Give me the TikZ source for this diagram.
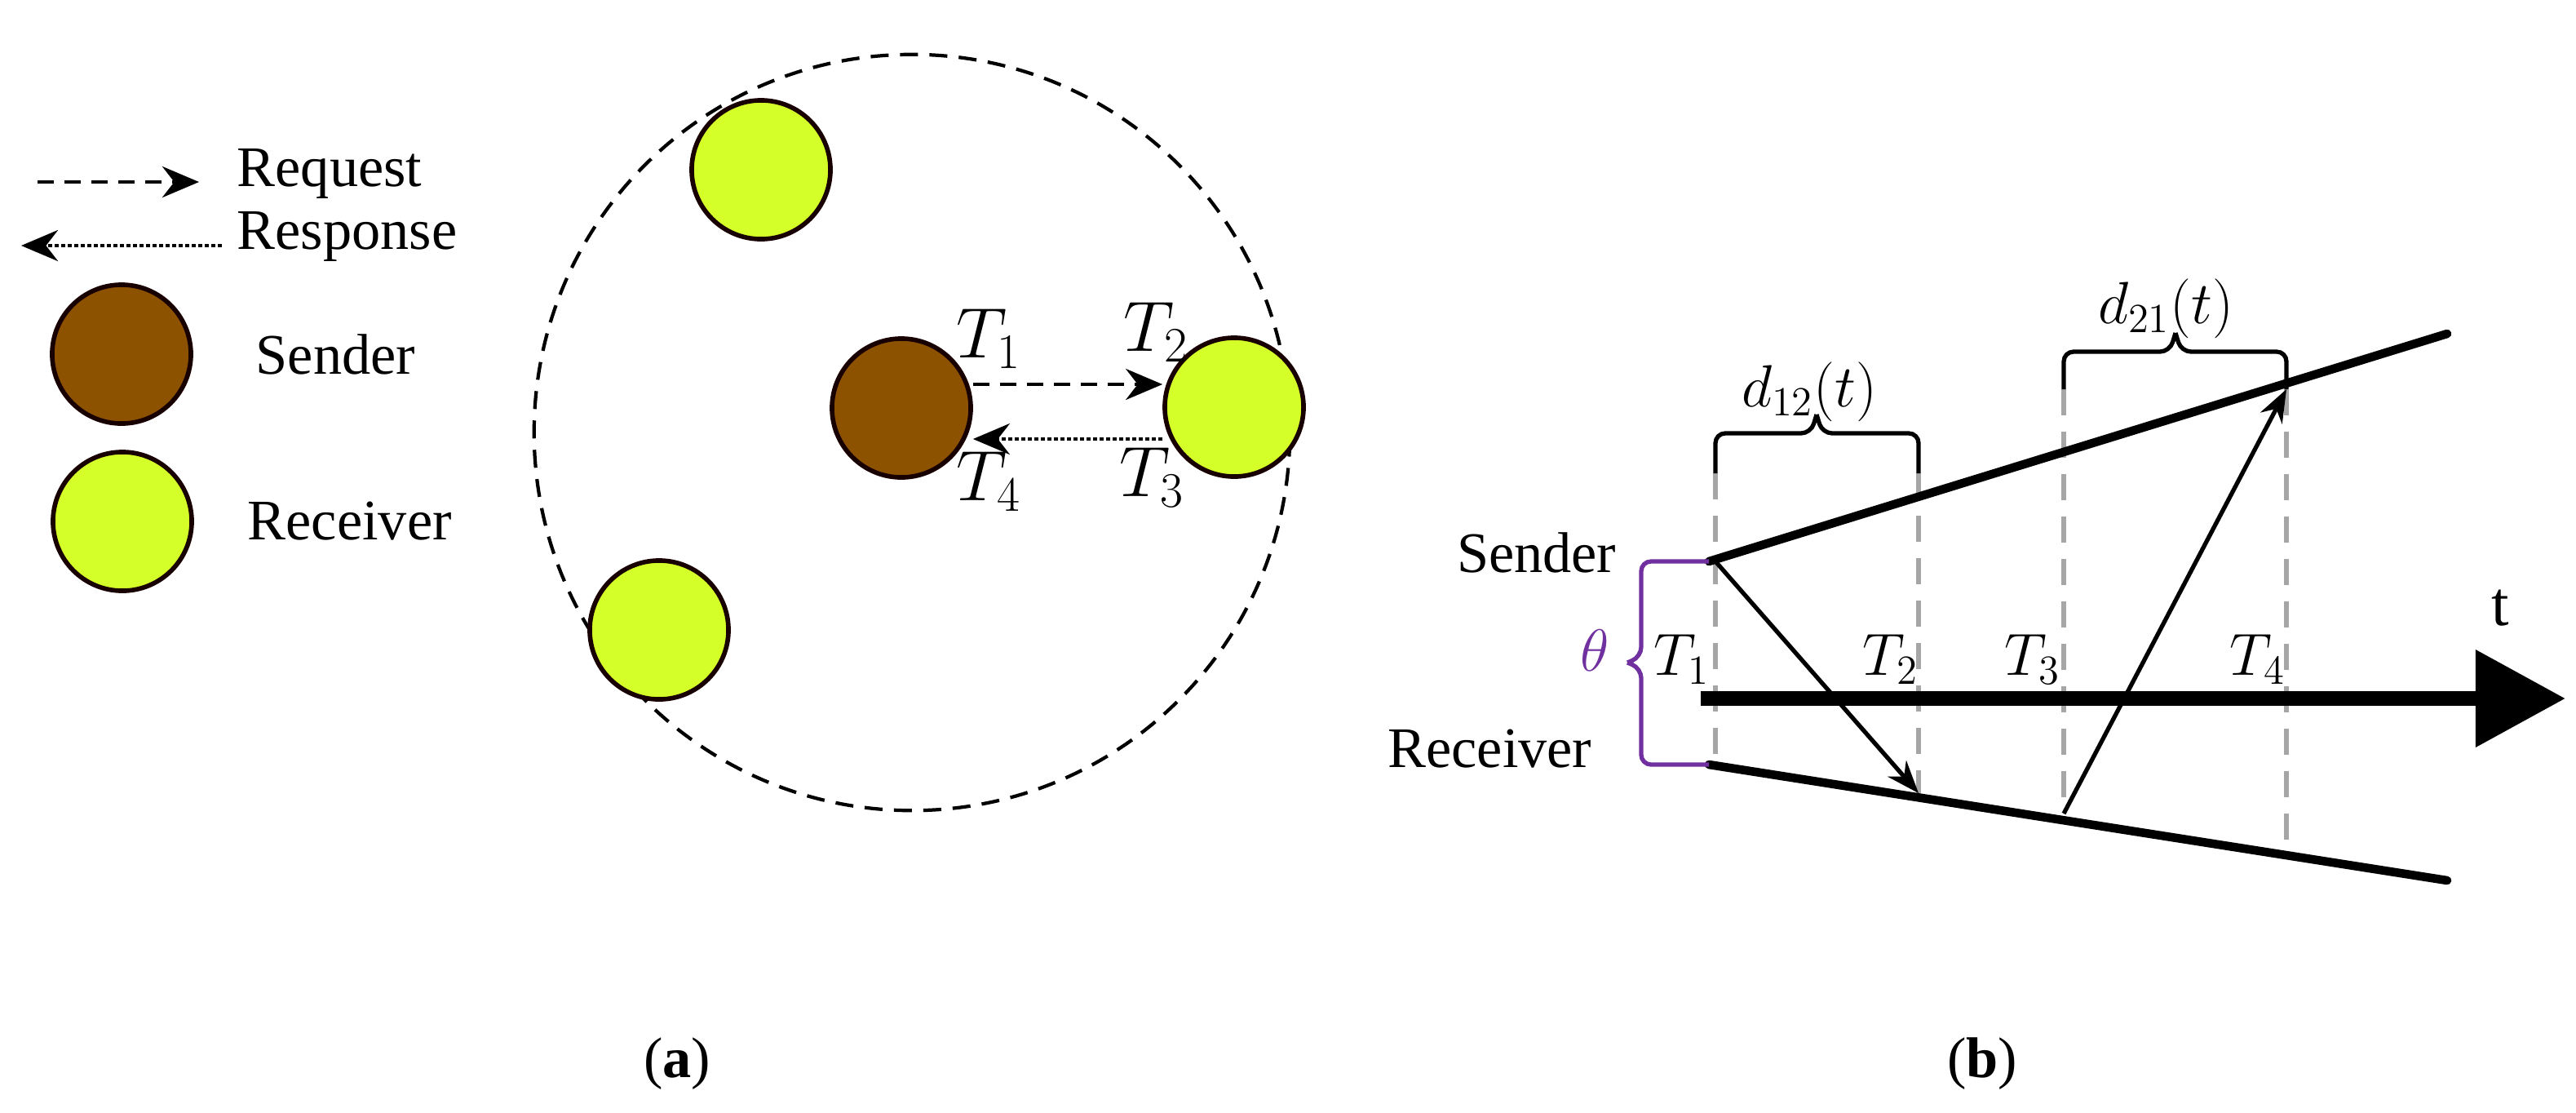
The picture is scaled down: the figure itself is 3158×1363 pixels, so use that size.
\documentclass[tikz,border=0pt]{standalone}
\usepackage{fontspec}
\setmainfont{Liberation Serif}
\usetikzlibrary{arrows.meta}
\definecolor{brownS}{RGB}{140,82,0}
\definecolor{limeR}{RGB}{212,255,40}
\definecolor{purp}{RGB}{112,48,160}
\begin{document}
\begin{tikzpicture}[x=0.01cm,y=-0.01cm,
  snd/.style={circle,draw=black!90!red,line width=1.6pt,fill=brownS,minimum size=1.7cm,inner sep=0},
  rcv/.style={circle,draw=black!90!red,line width=1.6pt,fill=limeR,minimum size=1.7cm,inner sep=0},
  lbl/.style={font=\fontsize{20}{24}\selectfont,inner sep=0},
  mlbl/.style={font=\fontsize{23}{27}\selectfont,inner sep=0},
  rlbl/.style={font=\fontsize{20}{24}\selectfont,inner sep=0},
  req/.style={line width=1.3pt,dash pattern=on 0.2cm off 0.13cm,-{Stealth[length=0.45cm,width=0.38cm]}},
  resp/.style={line width=1.3pt,dash pattern=on 0.05cm off 0.03cm,-{Stealth[length=0.45cm,width=0.38cm]}},
  tline/.style={line width=3pt,line cap=round},
  grayd/.style={draw=black!35,line width=1.6pt,dash pattern=on 0.32cm off 0.2cm},
  msg/.style={line width=1.5pt,-{Stealth[length=0.4cm,width=0.3cm]}},
  brc/.style={line width=1.5pt,rounded corners=0.12cm}]
\useasboundingbox (0,0) rectangle (3158,1363);
% ---- panel (a)
\node[circle,draw,line width=1.2pt,dash pattern=on 0.22cm off 0.14cm,minimum size=9.26cm,inner sep=0] (area) at (1118,530) {};
\node[rcv] (r1) at (933,208) {};
\node[rcv] (r2) at (808,772) {};
\node[snd] (s) at (1105,500) {};
\node[rcv] (r3) at (1513,499) {};
\coordinate (q1) at (46,223); \coordinate (q2) at (244,223);
\coordinate (p1) at (272,301); \coordinate (p2) at (26,301);
\draw[req] (q1) -- (q2);
\draw[resp] (p1) -- (p2);
\node[lbl,anchor=west] (treq) at (290,213) {Request};
\node[lbl,anchor=west] (tresp) at (290,290) {Response};
\node[snd] (ls) at (149,434) {};
\node[rcv] (lr) at (150,639) {};
\node[lbl,anchor=west] (tsnd) at (313,434) {Sender};
\node[lbl,anchor=west] (trcv) at (303,639) {Receiver};
\draw[req] (s.east |- 0,471) -- (r3.west |- 0,471);
\draw[resp] (r3.west |- 0,538) -- (s.east |- 0,538);
\node[mlbl] (a1) at (1212,415) {$T_1$};
\node[mlbl] (a2) at (1417,407) {$T_2$};
\node[mlbl] (a4) at (1212,590) {$T_4$};
\node[mlbl] (a3) at (1412,585) {$T_3$};
\node[lbl] (capa) at (830,1304) {(\textbf{a})};
\node[lbl] (capb) at (2430,1304) {(\textbf{b})};
% ---- panel (b)
\coordinate (S0) at (2095,688); \coordinate (S1) at (3000,409);
\coordinate (R0) at (2095,937); \coordinate (R1) at (3000,1079);
\coordinate (X0) at (2085,856); \coordinate (X1) at (3145,856);
\draw[grayd] (2103,580) -- (2103,937);
\draw[grayd] (2352,580) -- (2352,972);
\draw[grayd] (2530,477) -- (2530,997);
\draw[grayd] (2803,477) -- (2803,1041);
\draw[tline] (S0) -- (S1);
\draw[tline] (R0) -- (R1);
\draw[line width=5pt,-{Triangle[length=1.1cm,width=1.15cm]}] (X0) -- (X1);
\coordinate (e1) at (2103,688); \coordinate (e2) at (2352,972);
\coordinate (e3) at (2530,997); \coordinate (e4) at (2803,477);
\draw[msg] (e1) -- (e2);
\draw[msg] (e3) -- (e4);
% braces
\draw[brc] (2103,580) -- (2103,531) -- (2220,531) -- (2227,508);
\draw[brc] (2352,580) -- (2352,531) -- (2234,531) -- (2227,508);
\draw[brc] (2530,477) -- (2530,431) -- (2660,431) -- (2667,408);
\draw[brc] (2803,477) -- (2803,431) -- (2674,431) -- (2667,408);
\draw[brc,draw=purp] (2095,688) -- (2012,688) -- (2012,805) -- (1995,812);
\draw[brc,draw=purp] (2095,937) -- (2012,937) -- (2012,819) -- (1995,812);
\node[rlbl] (d12) at (2218,480) {$d_{12}(t)$};
\node[rlbl] (d21) at (2655,378) {$d_{21}(t)$};
\node[rlbl,text=purp] (th) at (1955,797) {$\theta$};
\node[rlbl,anchor=east] (bs) at (1982,677) {Sender};
\node[rlbl,anchor=east] (br) at (1952,918) {Receiver};
\node[font=\fontsize{22}{26}\selectfont,inner sep=0] (tt) at (3065,745) {t};
\node[rlbl] (b1) at (2062,808) {$T_1$};
\node[rlbl] (b2) at (2318,808) {$T_2$};
\node[rlbl] (b3) at (2492,808) {$T_3$};
\node[rlbl] (b4) at (2768,808) {$T_4$};
\end{tikzpicture}
\end{document}
